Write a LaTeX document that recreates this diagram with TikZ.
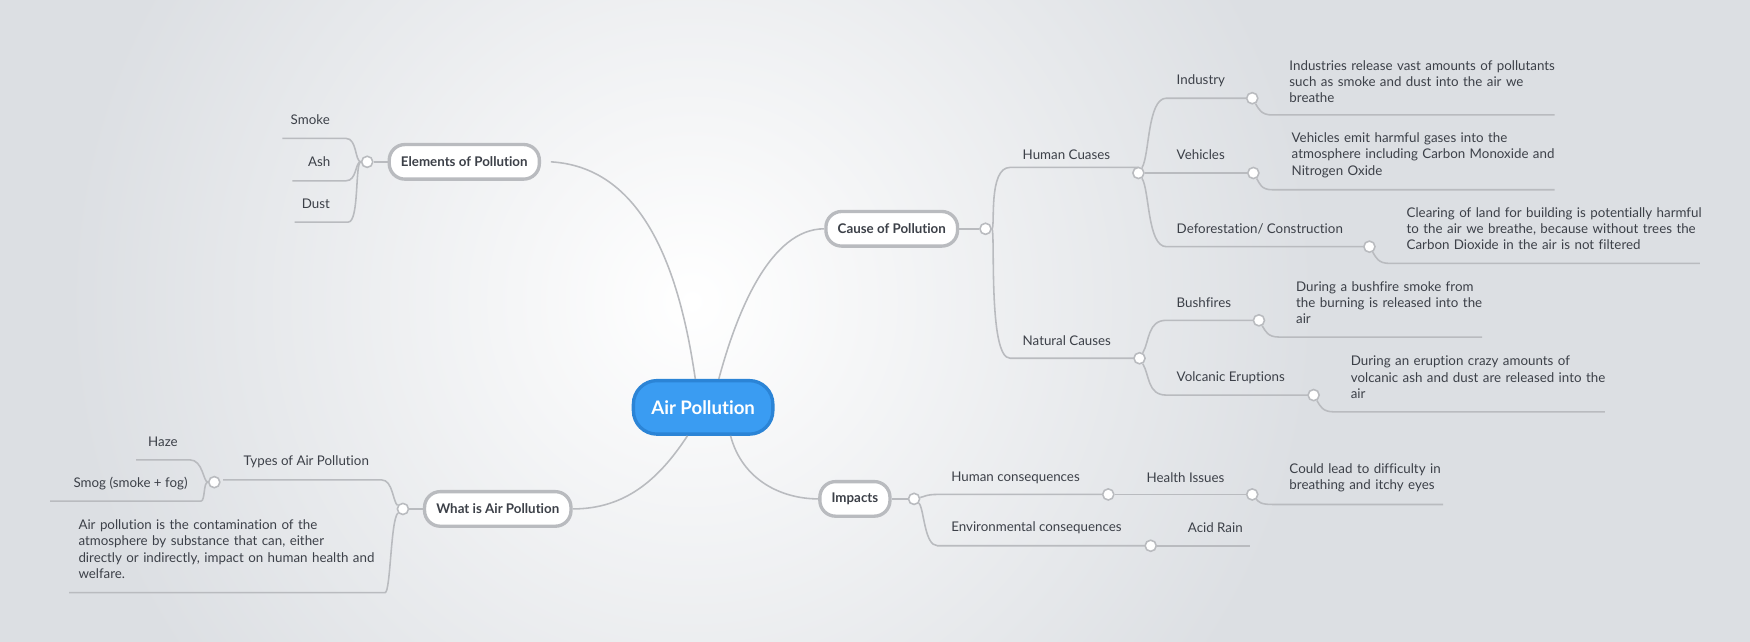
\documentclass[tikz,border=0pt]{standalone}
\usepackage{fontspec}
\setmainfont[Ligatures={NoCommon,NoDiscretionary}]{Lato}
\definecolor{bgc}{HTML}{DCDFE3}
\definecolor{ln}{HTML}{B9BBBF}
\definecolor{txt}{HTML}{3C4048}
\definecolor{cblue}{HTML}{3A9CF2}
\definecolor{cbord}{HTML}{2B84D6}
\begin{document}
\begin{tikzpicture}[x=0.02cm,y=-0.02cm,
  lbl/.style={font=\fontsize{6.8}{8.6}\selectfont,text=txt,inner sep=0pt,anchor=west},
  para/.style={lbl,align=left,font=\fontsize{6.8}{8.3}\selectfont},
  topic/.style={draw=ln,line width=1.7pt,fill=white,rounded corners=8pt,font=\fontsize{6.8}{8}\selectfont\bfseries,text=txt,minimum height=0.62cm,inner xsep=6pt},
  con/.style={draw=ln,line width=0.8pt},
  dot/.style={circle,draw=ln,line width=0.8pt,fill=white,minimum size=0.2cm,inner sep=0pt}]
\useasboundingbox (0,0) rectangle (1568,575);
\begin{scope}
\clip (0,0) rectangle (1568,575);
\fill[bgc] (0,0) rectangle (1568,575);
\shade[inner color=white,outer color=bgc] (620,270) circle (560);
\end{scope}
% central
\node[draw=cbord,line width=1.7pt,fill=cblue,rounded corners=12pt,minimum width=2.5cm,minimum height=0.96cm,text=white,font=\fontsize{9.5}{11}\selectfont\bfseries] (AP) at (630,365) {Air Pollution};
% topics
\node[topic] (EL) at (416,145) {Elements of Pollution};
\node[topic] (CA) at (799,205) {Cause of Pollution};
\node[topic] (IM) at (766,447) {Impacts};
\node[topic] (WH) at (446,456) {What is Air Pollution};
\draw[con] ([xshift=-4pt]AP.north) .. controls (610,250) and (580,150) .. ([xshift=5pt]EL.east);
\draw[con] ([xshift=8pt]AP.north) .. controls (660,280) and (690,205) .. (CA.west);
\draw[con] ([xshift=14pt]AP.south) .. controls (665,430) and (700,447) .. (IM.west);
\draw[con] ([xshift=-8pt]AP.south) .. controls (590,430) and (560,456) .. (WH.east);

% ---------- Cause
\node[dot] (cd) at (883,205) {};
\draw[con] (CA.east) -- (cd);
\coordinate (hu0) at (905,150); \coordinate (hu1) at (1020,150);
\coordinate (na0) at (905,321); \coordinate (na1) at (1021,321);
\node[lbl] (hul) at (916,139) {Human Cuases};
\node[lbl] (nal) at (916,305) {Natural Causes};
\draw[con] (cd) .. controls (892,205) and (885,150) .. (hu0) -- (hu1);
\draw[con] (cd) .. controls (892,205) and (885,321) .. (na0) -- (na1);
\node[dot] (hud) at (1020,155) {};
\node[dot] (nad) at (1021,321) {};
% Industry
\coordinate (in0) at (1045,88); \coordinate (in1) at (1122,88);
\node[lbl] (inl) at (1054,72) {Industry};
\draw[con] (hud) .. controls (1030,140) and (1028,88) .. (in0) -- (in1);
\node[dot] (ind) at (1122,88) {};
\coordinate (it0) at (1140,103); \coordinate (it1) at (1393,103);
\draw[con] (ind) .. controls (1128,98) and (1130,103) .. (it0) -- (it1);
\node[para,text width=5cm] (itx) at (1155,73) {Industries release vast amounts of pollutants\\such as smoke and dust into the air we\\breathe};
% Vehicles
\node[lbl] (vel) at (1054,139) {Vehicles};
\draw[con] (hud) -- (1123,155);
\node[dot] (ved) at (1123,155) {};
\coordinate (vt0) at (1140,170); \coordinate (vt1) at (1393,170);
\draw[con] (ved) .. controls (1129,165) and (1130,170) .. (vt0) -- (vt1);
\node[para,text width=5cm] (vtx) at (1157,139) {Vehicles emit harmful gases into the\\atmosphere including Carbon Monoxide and\\Nitrogen Oxide};
% Deforestation
\coordinate (de0) at (1045,221);
\node[lbl] (del) at (1054,205) {Deforestation/ Construction};
\draw[con] (hud) .. controls (1030,170) and (1028,221) .. (de0) -- (1227,221);
\node[dot] (ded) at (1227,221) {};
\coordinate (dt0) at (1245,236); \coordinate (dt1) at (1523,236);
\draw[con] (ded) .. controls (1233,231) and (1235,236) .. (dt0) -- (dt1);
\node[para,text width=6cm] (dtx) at (1260,205) {Clearing of land for building is potentially harmful\\to the air we breathe, because without trees the\\Carbon Dioxide in the air is not filtered};
% Bushfires
\coordinate (bu0) at (1045,287);
\node[lbl] (bul) at (1054,271) {Bushfires};
\draw[con] (nad) .. controls (1030,306) and (1028,287) .. (bu0) -- (1128,287);
\node[dot] (bud) at (1128,287) {};
\coordinate (bt0) at (1146,302); \coordinate (bt1) at (1328,302);
\draw[con] (bud) .. controls (1134,297) and (1136,302) .. (bt0) -- (bt1);
\node[para,text width=4cm] (btx) at (1161,271) {During a bushfire smoke from\\the burning is released into the\\air};
% Volcanic
\coordinate (vo0) at (1045,354);
\node[lbl] (vol) at (1054,338) {Volcanic Eruptions};
\draw[con] (nad) .. controls (1030,336) and (1028,354) .. (vo0) -- (1177,354);
\node[dot] (vod) at (1177,354) {};
\coordinate (vv0) at (1195,369); \coordinate (vv1) at (1438,369);
\draw[con] (vod) .. controls (1183,364) and (1185,369) .. (vv0) -- (vv1);
\node[para,text width=5cm] (vvx) at (1210,338) {During an eruption crazy amounts of\\volcanic ash and dust are released into the\\air};

% ---------- Elements
\node[dot] (ed) at (329,145) {};
\draw[con] (EL.west) -- (ed);
\node[lbl,anchor=center] (sm) at (278,107) {Smoke};
\node[lbl,anchor=center] (as) at (286,145) {Ash};
\node[lbl,anchor=center] (du) at (283,183) {Dust};
\coordinate (sm0) at (253,124); \coordinate (sm1) at (310,124);
\coordinate (as0) at (262,162); \coordinate (as1) at (310,162);
\coordinate (du0) at (264,199); \coordinate (du1) at (312,199);
\draw[con] (ed) .. controls (318,145) and (320,124) .. (sm1) -- (sm0);
\draw[con] (ed) .. controls (318,145) and (320,162) .. (as1) -- (as0);
\draw[con] (ed) .. controls (318,145) and (322,199) .. (du1) -- (du0);

% ---------- Impacts
\node[dot] (id) at (819,447) {};
\draw[con] (IM.east) -- (id);
\node[lbl] (hcl) at (852,428) {Human consequences};
\node[lbl] (ecl) at (852,473) {Environmental consequences};
\coordinate (hc0) at (840,443); \coordinate (ec0) at (840,489);
\draw[con] (id) .. controls (828,445) and (830,443) .. (hc0) -- (993,443);
\node[dot] (hcd) at (993,443) {};
\draw[con] (id) .. controls (828,455) and (828,489) .. (ec0) -- (1031,489);
\node[dot] (ecd) at (1031,489) {};
\node[lbl] (hil) at (1027,428) {Health Issues};
\draw[con] (hcd) -- (1122,443);
\node[dot] (hid) at (1122,443) {};
\coordinate (ht0) at (1140,452); \coordinate (ht1) at (1293,452);
\draw[con] (hid) .. controls (1128,450) and (1130,452) .. (ht0) -- (ht1);
\node[para,text width=4cm] (htx) at (1155,428) {Could lead to difficulty in\\breathing and itchy eyes};
\node[lbl] (arl) at (1064,473) {Acid Rain};
\coordinate (ar1) at (1120,489);
\draw[con] (ecd) -- (ar1);

% ---------- What is
\node[dot] (wd) at (361,456) {};
\draw[con] (WH.west) -- (wd);
\node[lbl] (tyl) at (218,414) {Types of Air Pollution};
\coordinate (ty0) at (342,430); \coordinate (ty1) at (200,430);
\draw[con] (wd) .. controls (352,450) and (352,430) .. (ty0) -- (ty1);
\node[dot] (tyd) at (192,432) {};
\node[lbl,anchor=center] (hz) at (146,396) {Haze};
\node[lbl,anchor=center] (sg) at (117,433) {Smog (smoke + fog)};
\coordinate (hz0) at (122,412); \coordinate (hz1) at (170,412);
\coordinate (sg0) at (45,449); \coordinate (sg1) at (180,449);
\draw[con] (tyd) .. controls (182,432) and (182,412) .. (hz1) -- (hz0);
\draw[con] (tyd) .. controls (182,432) and (184,449) .. (sg1) -- (sg0);
\coordinate (pa0) at (345,531); \coordinate (pa1) at (62,531);
\draw[con] (wd) .. controls (350,465) and (350,531) .. (pa0) -- (pa1);
\node[para,text width=6cm] (ptx) at (70,492) {Air pollution is the contamination of the\\atmosphere by substance that can, either\\directly or indirectly, impact on human health and\\welfare.};
\end{tikzpicture}
\end{document}
